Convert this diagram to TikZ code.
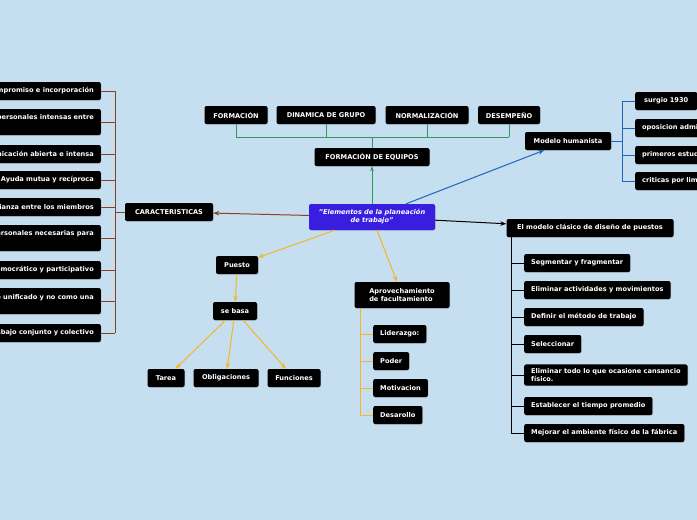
\documentclass[tikz,border=0pt]{standalone}
\usepackage{fontspec}
\setmainfont{DejaVu Sans}
\usetikzlibrary{arrows.meta,shadows}
\definecolor{bg}{HTML}{C5DEF0}
\definecolor{brn}{HTML}{8B4220}
\definecolor{grn}{HTML}{2E9A5A}
\definecolor{blu}{HTML}{1F66B8}
\definecolor{org}{HTML}{F5B623}
\definecolor{ctr}{HTML}{3A1EE0}
\begin{document}
\begin{tikzpicture}[x=1pt,y=-1pt,
 box/.style={fill=black,rounded corners=2pt,text=white,font=\fontsize{6.6}{8}\selectfont\bfseries,inner xsep=7pt,inner ysep=4pt,minimum height=18pt,align=left,drop shadow={shadow xshift=0.6pt,shadow yshift=-0.6pt,opacity=0.4}},
 ln/.style={line width=1pt}]
\fill[bg] (0,0) rectangle (697,520);
\useasboundingbox (0,0) rectangle (697,520);
\clip (0,0) rectangle (697,520);
% center
\node[box,fill=ctr,font=\fontsize{6.6}{8}\selectfont\bfseries\itshape,align=center,minimum width=126pt,minimum height=26pt] (c) at (372,217) {"Elementos de la planeación\\ de trabajo"};
% top
\node[box,minimum width=115pt] (fe) at (372,157) {FORMACIÓN DE EQUIPOS};
\node[box,minimum width=63pt] (t1) at (236,115) {FORMACIÓN};
\node[box,minimum width=99pt] (t2) at (326,115) {DINAMICA DE GRUPO};
\node[box,minimum width=83pt] (t3) at (427,115) {NORMALIZACIÓN};
\node[box,minimum width=62pt] (t4) at (509,115) {DESEMPEÑO};
\draw[ln,grn,-{Stealth[length=5pt]}] (c) -- (fe);
\coordinate (gj) at (372,137);
\draw[ln,grn] (fe.north) -- (gj);
\foreach \n in {t1,t2,t3,t4}{\draw[ln,grn] (gj -| \n) -- (\n.south);}
\draw[ln,grn] (gj -| t1) -- (gj -| t4);
% modelo humanista
\node[box,minimum width=86pt] (mh) at (568,141) {Modelo humanista};
\draw[ln,blu,-{Stealth[length=6pt]}] (c) -- (mh);
\foreach \y/\t [count=\i] in {101/surgio 1930,128/oposicion administración científica,155/primeros estudios,181/criticas por limitaciones}{
 \node[box,anchor=west,minimum width=62pt] (h\i) at (635,\y) {\t};
 \draw[ln,blu] (622,\y) -- (h\i.west);}
\draw[ln,blu] (622,101) -- (622,181);
\draw[ln,blu] (mh.east) -- (622,141);
% modelo clasico
\node[box,minimum width=167pt] (mc) at (590,228) {El modelo clásico de diseño de puestos};
\draw[ln,black,-{Stealth[length=6pt]}] (c) -- (mc);
\foreach \y/\t [count=\i] in {263/Segmentar y fragmentar,290/Eliminar actividades y movimientos,317/Definir el método de trabajo,344/Seleccionar,375/Eliminar todo lo que ocasione cansancio\\físico.,406/Establecer el tiempo promedio,433/Mejorar el ambiente físico de la fábrica}{
 \node[box,anchor=west] (k\i) at (524,\y) {\t};
 \draw[ln,black] (511,\y) -- (k\i.west);}
\draw[ln,black] (511,237) -- (511,433);
% caracteristicas
\node[box,minimum width=88pt] (ca) at (169,212) {CARACTERISTICAS};
\draw[ln,brn,-{Stealth[length=6pt]}] (c) -- (ca);
\foreach \y/\t/\h [count=\i] in {91/Compromiso e incorporación/18,122/Relaciones interpersonales intensas entre\\sus pares/26,154/Comunicación abierta e intensa/18,180/Ayuda mutua y recíproca/18,207/Confianza entre los miembros/18,238/Habilidades interpersonales necesarias para\\el logro/26,270/Liderazgo democrático y participativo/18,301/Se ve como un todo unificado y no como una\\suma/26,333/Trabajo conjunto y colectivo/18}{
 \node[box,anchor=east,minimum height=\h pt] (l\i) at (101,\y) {\t};
 \draw[ln,brn] (l\i.east) -- (115,\y);}
\draw[ln,brn] (115,91) -- (115,333);
\draw[ln,brn] (ca.west) -- (115,212);
% puesto
\node[box,minimum width=42pt] (pu) at (237,265) {Puesto};
\node[box,minimum width=44pt] (sb) at (235,311) {se basa};
\node[box,minimum width=37pt] (ta) at (166,378) {Tarea};
\node[box,minimum width=65pt] (ob) at (226,378) {Obligaciones};
\node[box,minimum width=53pt] (fu) at (294,378) {Funciones};
\draw[ln,org,-{Stealth[length=6pt]}] (c) -- (pu);
\draw[ln,org,-{Stealth[length=6pt]}] (pu) -- (sb);
\foreach \n in {ta,ob,fu}{\draw[ln,org,-{Stealth[length=6pt]}] (sb) -- (\n);}
% aprovechamiento
\node[box,minimum width=95pt,minimum height=26pt] (ap) at (402,295) {Aprovechamiento\\de facultamiento};
\draw[ln,org,-{Stealth[length=6pt]}] (c) -- (ap);
\foreach \y/\t [count=\i] in {334/Liderazgo:,361/Poder,388/Motivacion,415/Desarollo}{
 \node[box,anchor=west] (a\i) at (373,\y) {\t};
 \draw[ln,org] (360,\y) -- (a\i.west);}
\draw[ln,org] (360,308) -- (360,415);
\end{tikzpicture}
\end{document}
